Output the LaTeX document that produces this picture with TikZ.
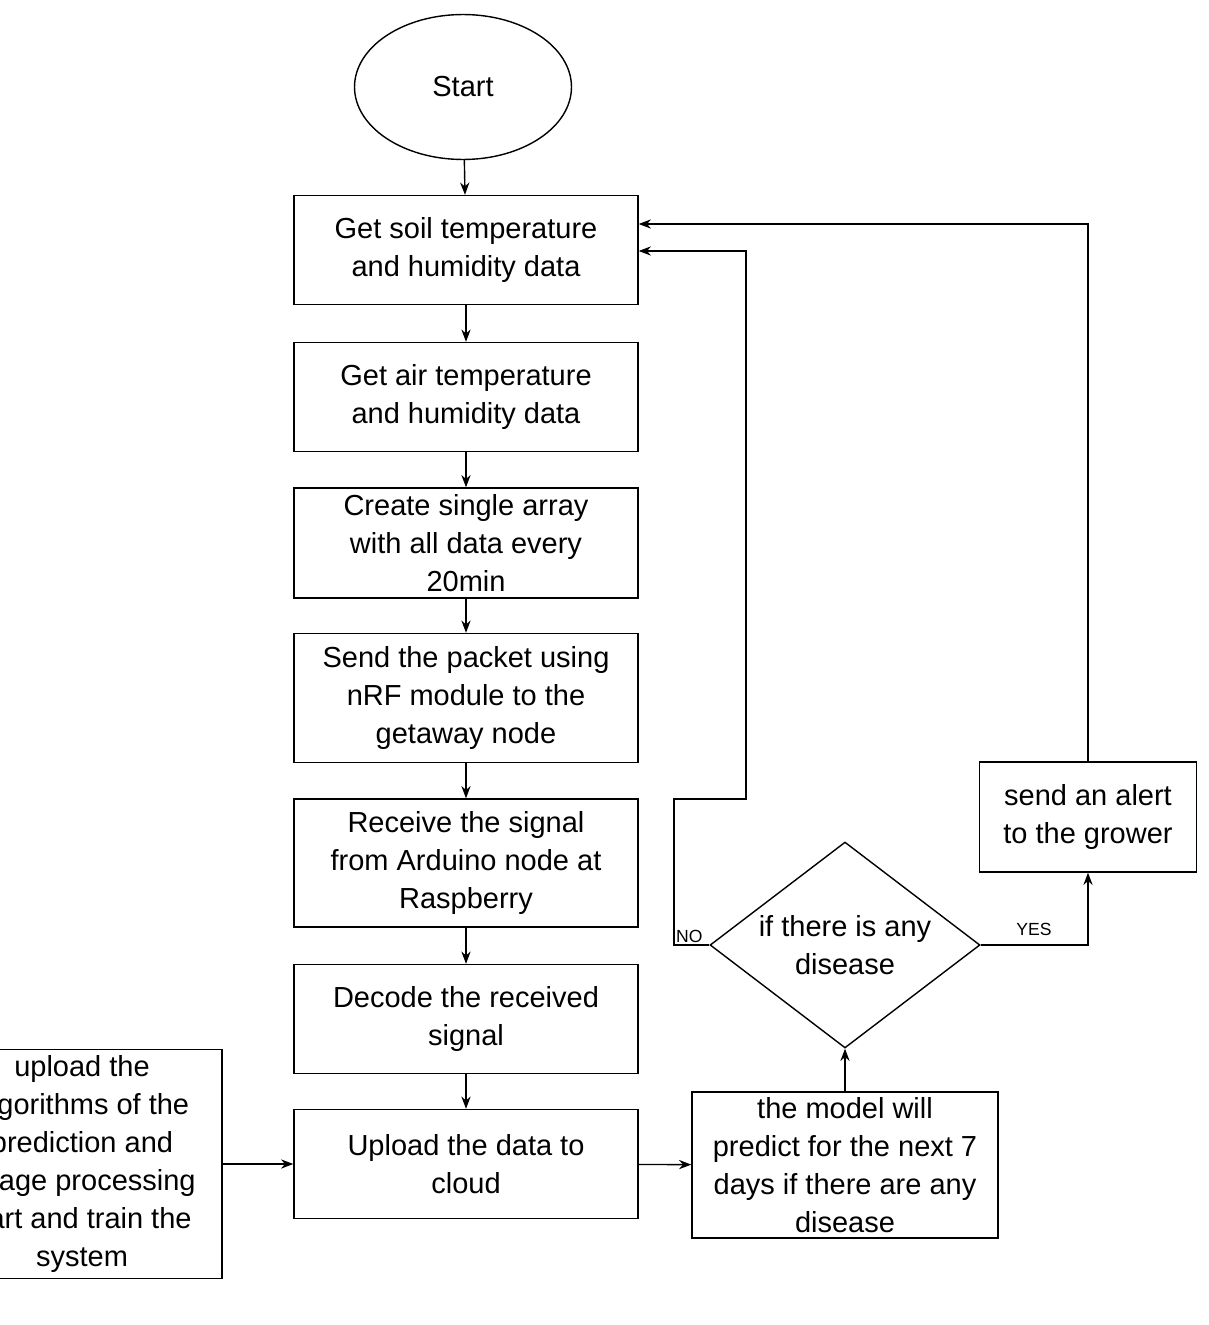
\documentclass[tikz,border=0pt]{standalone}
\usepackage{fontspec}
\setmainfont{Liberation Sans}
\usetikzlibrary{shapes.geometric,arrows.meta}
\tikzset{
  box/.style={draw,thick,minimum width=6.88cm,minimum height=2.18cm,align=center,inner sep=2pt,font=\fontsize{16.5}{21.6}\selectfont},
  arr/.style={->,>={Stealth[length=7pt]},thick},
}
\begin{document}
\begin{tikzpicture}[x=0.02cm,y=-0.02cm]
            \useasboundingbox (0,0) rectangle (1208,1325);
            \node[draw,thick,ellipse,minimum width=4.34cm,minimum height=2.9cm,font=\fontsize{16.5}{21.6}\selectfont] (start) at (463,87) {Start};
            \node[box] (soil) at (466,250) {Get soil temperature\\and humidity data};
            \node[box] (air) at (466,397) {Get air temperature\\and humidity data};
            \node[box,minimum height=2.2cm] (array) at (466,543) {Create single array\\with all data every\\20min};
            \node[box,minimum height=2.58cm] (send) at (466,698) {Send the packet using\\nRF module to the\\getaway node};
            \node[box,minimum height=2.56cm] (recv) at (466,863) {Receive the signal\\from Arduino node at\\Raspberry};
            \node[box] (decode) at (466,1019) {Decode the received\\signal};
            \node[box] (cloud) at (466,1164) {Upload the data to\\cloud};
            \node[box,minimum width=5.6cm,minimum height=4.58cm] (algo) at (82,1164) {upload the\\algorithms of the\\prediction and\\image processing\\part and train the\\system};
            \node[box,minimum width=6.12cm,minimum height=2.92cm,inner sep=0pt] (model) at (845,1165) {the model will\\predict for the next 7\\days if there are any\\disease};
            \node[draw,thick,diamond,minimum width=5.4cm,minimum height=4.12cm,aspect=1.31,inner sep=0pt,align=center,font=\fontsize{16.5}{21.6}\selectfont] (dis) at (845,945) {};
            \node[align=center,font=\fontsize{16.5}{21.6}\selectfont] (distext) at (845,945) {if there is any\\disease};
            \node[box,minimum width=4.34cm,minimum height=2.2cm] (alert) at (1088,817) {send an alert\\to the grower};
            \coordinate (c1) at (674,945);
            \coordinate (c2) at (674,799);
            \coordinate (c3) at (746,799);
            \coordinate (c4) at (746,251);
            \coordinate (c5) at (1088,945);
            \coordinate (c6) at (1088,224);
            \draw[arr] (start) -- (soil);
            \draw[arr] (soil) -- (air);
            \draw[arr] (air) -- (array);
            \draw[arr] (array) -- (send);
            \draw[arr] (send) -- (recv);
            \draw[arr] (recv) -- (decode);
            \draw[arr] (decode) -- (cloud);
            \draw[arr] (algo) -- (cloud);
            \draw[arr] (cloud) -- (model);
            \draw[arr] (model) -- (dis);
            \draw[arr] (dis.west) -- (c1) -- (c2) -- (c3) -- (c4) -- (soil.east |- c4);
            \node[font=\fontsize{10}{12}\selectfont,above right,inner sep=1pt] at (c1) {NO};
            \draw[arr] (dis.east) -- (c5) -- (alert);
            \node[font=\fontsize{10}{12}\selectfont,above=2pt] at (1034,945) {YES};
            \draw[arr] (alert) -- (c6) -- (soil.east |- c6);
        \end{tikzpicture}
\end{document}
